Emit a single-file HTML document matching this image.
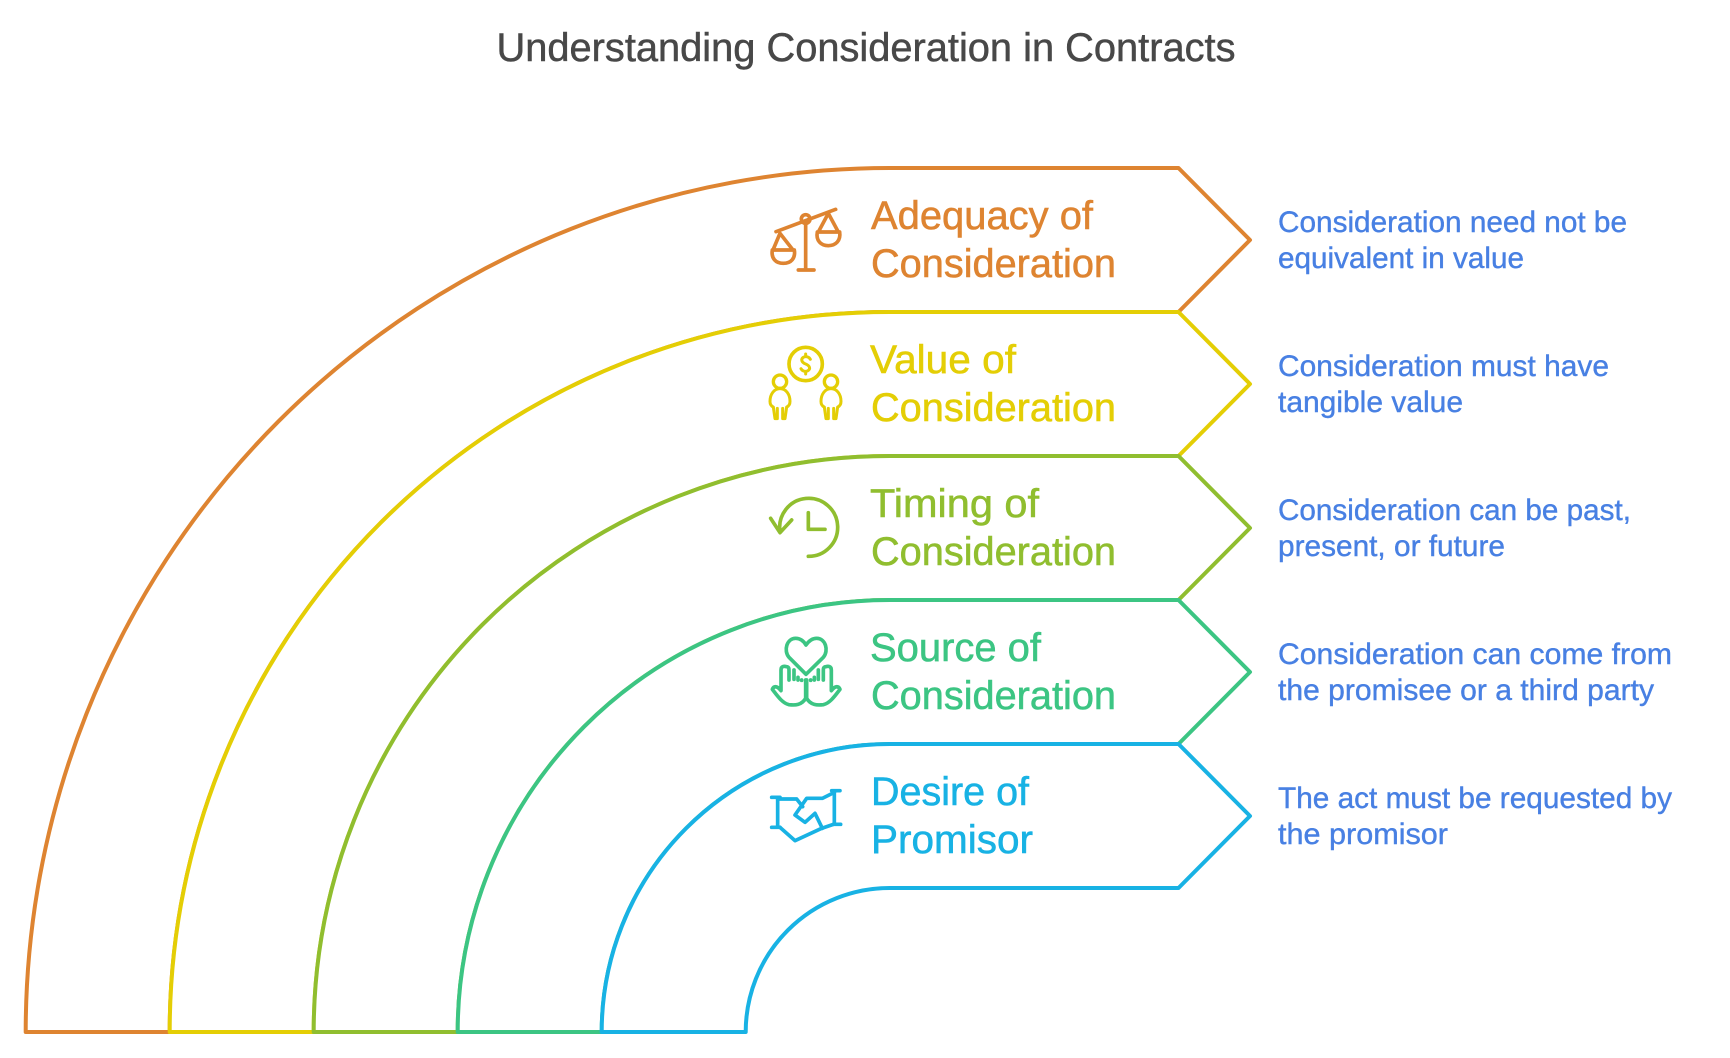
<!DOCTYPE html>
<html>
<head>
<meta charset="utf-8">
<style>
html,body{margin:0;padding:0;background:#fff;width:1730px;height:1058px;overflow:hidden}
svg{display:block}
text{font-family:"Liberation Sans",sans-serif}
.l{font-size:39.5px;stroke-width:.55}
.d{font-size:29.5px;fill:#4880e3;stroke:#4880e3;stroke-width:.4}
.i{fill:none;stroke-width:11;stroke-linecap:round;stroke-linejoin:round}
</style>
</head>
<body>
<svg width="1730" height="1058" viewBox="0 0 1730 1058" xmlns="http://www.w3.org/2000/svg">
<rect width="1730" height="1058" fill="#fff"/>
<text x="496.5" y="61" font-size="40" fill="#484848" stroke="#484848" stroke-width=".5" textLength="739" lengthAdjust="spacingAndGlyphs">Understanding Consideration in Contracts</text>

<g fill="#fff" stroke-width="4" stroke-linejoin="round">
<path stroke="#de8431" d="M25.7 1032A864 864 0 0 1 889.7 168H1178.5L1250 240L1178.5 312H889.7A720 720 0 0 0 169.7 1032Z"/>
<path stroke="#e4ce05" d="M169.7 1032A720 720 0 0 1 889.7 312H1178.5L1250 384L1178.5 456H889.7A576 576 0 0 0 313.7 1032Z"/>
<path stroke="#90be2f" d="M313.7 1032A576 576 0 0 1 889.7 456H1178.5L1250 528L1178.5 600H889.7A432 432 0 0 0 457.7 1032Z"/>
<path stroke="#3cc583" d="M457.7 1032A432 432 0 0 1 889.7 600H1178.5L1250 672L1178.5 744H889.7A288 288 0 0 0 601.7 1032Z"/>
<path stroke="#18b2e4" d="M601.7 1032A288 288 0 0 1 889.7 744H1178.5L1250 816L1178.5 888H889.7A144 144 0 0 0 745.7 1032Z"/>
</g>

<g class="l">
<text x="871" y="229" fill="#de8431" stroke="#de8431" textLength="222" lengthAdjust="spacingAndGlyphs">Adequacy of</text>
<text x="871" y="277" fill="#de8431" stroke="#de8431" textLength="245" lengthAdjust="spacingAndGlyphs">Consideration</text>
<text x="870" y="373" fill="#e4ce05" stroke="#e4ce05" textLength="146" lengthAdjust="spacingAndGlyphs">Value of</text>
<text x="871" y="421" fill="#e4ce05" stroke="#e4ce05" textLength="245" lengthAdjust="spacingAndGlyphs">Consideration</text>
<text x="870" y="517" fill="#90be2f" stroke="#90be2f" textLength="169" lengthAdjust="spacingAndGlyphs">Timing of</text>
<text x="871" y="565" fill="#90be2f" stroke="#90be2f" textLength="245" lengthAdjust="spacingAndGlyphs">Consideration</text>
<text x="870" y="661" fill="#3cc583" stroke="#3cc583" textLength="171" lengthAdjust="spacingAndGlyphs">Source of</text>
<text x="871" y="709" fill="#3cc583" stroke="#3cc583" textLength="245" lengthAdjust="spacingAndGlyphs">Consideration</text>
<text x="871" y="805" fill="#18b2e4" stroke="#18b2e4" textLength="158" lengthAdjust="spacingAndGlyphs">Desire of</text>
<text x="871" y="853" fill="#18b2e4" stroke="#18b2e4" textLength="162" lengthAdjust="spacingAndGlyphs">Promisor</text>
</g>

<g class="d">
<text x="1278" y="232" textLength="349" lengthAdjust="spacingAndGlyphs">Consideration need not be</text>
<text x="1278" y="268" textLength="246" lengthAdjust="spacingAndGlyphs">equivalent in value</text>
<text x="1278" y="376" textLength="331" lengthAdjust="spacingAndGlyphs">Consideration must have</text>
<text x="1278" y="412" textLength="185" lengthAdjust="spacingAndGlyphs">tangible value</text>
<text x="1278" y="520" textLength="353" lengthAdjust="spacingAndGlyphs">Consideration can be past,</text>
<text x="1278" y="556" textLength="227" lengthAdjust="spacingAndGlyphs">present, or future</text>
<text x="1278" y="664" textLength="394" lengthAdjust="spacingAndGlyphs">Consideration can come from</text>
<text x="1278" y="700" textLength="376" lengthAdjust="spacingAndGlyphs">the promisee or a third party</text>
<text x="1278" y="808" textLength="394" lengthAdjust="spacingAndGlyphs">The act must be requested by</text>
<text x="1278" y="844" textLength="170" lengthAdjust="spacingAndGlyphs">the promisor</text>
</g>

<!-- scales -->
<g class="i" stroke="#de8431" transform="translate(765 200) scale(.3333)">
<path d="M33 95L212 28"/>
<circle cx="122" cy="57" r="13"/>
<path d="M122 72V210M100 210H147"/>
<path d="M45 100L24 150H84L45 100ZM22 150C18 175 32 190 55 190C78 190 92 175 88 150Z"/>
<path d="M190 40L160 96H220L190 40ZM157 96C152 122 168 137 190 137C212 137 228 122 224 96Z"/>
</g>

<!-- people and coin -->
<g class="i" stroke="#e4ce05" transform="translate(765 340) scale(.3333)">
<circle cx="122" cy="72" r="50"/>
<path d="M136 58C132 50 122 48 115 52C107 57 109 67 122 72C135 77 137 87 129 92C122 96 112 94 108 86M122 42V50M122 94V102" stroke-width="9"/>
<circle cx="45" cy="125" r="20" stroke-width="10"/>
<path stroke-width="9" d="M37 205V236H30L25 201C18 198 15 192 15 184C15 163 27 146 45 146C63 146 75 163 75 184C75 192 72 198 65 201L60 236H53V205"/>
<circle cx="198" cy="125" r="20" stroke-width="10"/>
<path stroke-width="9" d="M190 205V236H183L178 201C171 198 168 192 168 184C168 163 180 146 198 146C216 146 228 163 228 184C228 192 225 198 218 201L213 236H206V205"/>
</g>

<!-- clock -->
<g class="i" stroke="#90be2f" transform="translate(765 490) scale(.3333)">
<path d="M130 199A87 87 0 1 0 45 125"/>
<path d="M17 85L45 128L80 90"/>
<path d="M130 68V118H180"/>
</g>

<!-- heart hands -->
<g class="i" stroke="#3cc583" transform="translate(765 630) scale(.3333)">
<path d="M123 133L72 82C55 62 65 25 92 25C107 25 117 35 123 45C130 35 140 25 155 25C182 25 192 62 175 82Z"/>
<path d="M122 150V205C110 226 90 226 72 224C52 220 36 196 22 178C26 168 36 166 48 182V120C48 108 58 108 64 110C72 110 72 116 72 122V150"/>
<path d="M125 150V205C137 226 157 226 175 224C195 220 211 196 225 178C221 168 211 166 199 182V120C199 108 189 108 183 110C175 110 175 116 175 122V150"/>
<path d="M87 120V148M99 142V150M110 150V151M137 150V151M148 142V150M160 120V148"/>
</g>

<!-- handshake -->
<g class="i" stroke="#18b2e4" transform="translate(765 785) scale(.3333)">
<path d="M20 37H45M38 37V127M20 127H45"/>
<path d="M38 42H95L113 65"/>
<path d="M45 127L90 167L170 130L205 118"/>
<path d="M200 17H225M208 17V118M205 118H227"/>
<path d="M208 22L172 40H125L90 90L120 112L150 85L172 130"/>
</g>
</svg>
</body>
</html>
